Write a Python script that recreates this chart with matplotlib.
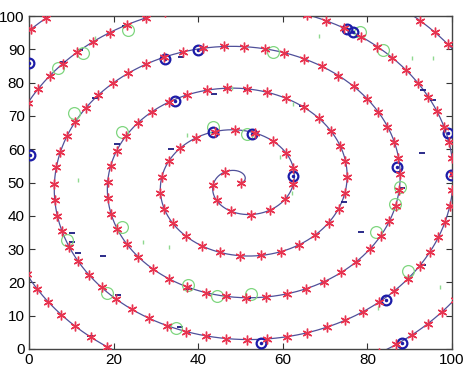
import numpy as np
import matplotlib
matplotlib.use("Agg")
import matplotlib.pyplot as plt

# ---- spiral: r = growth * theta around the centre ----
spiral_center = (50.0, 50.0)
spiral_growth = 2.0          # radius gained per radian
spiral_theta_max = 35.0      # radians covered by the curve
marker_first_arc = 3.2       # arc-length offset of marker sequence
marker_arc_step = 4.85       # arc length between successive asterisks

# ---- extra detections ----
blue_circle_x = [32.2, 40.0, 34.5, 43.4, 52.8, 76.7, 75.1, 99.1, 99.8, 86.9, 84.3, 88.1, 54.8, 62.3, 0.0, 0.2]
blue_circle_y = [87.0, 89.8, 74.6, 65.1, 64.6, 95.3, 96.0, 65.0, 52.3, 54.6, 14.7, 1.9, 1.7, 52.0, 85.8, 58.3]

green_circle_x = [23.5, 12.7, 6.9, 10.6, 78.3, 83.6, 18.4, 8.9, 89.7, 57.8, 43.6, 51.5, 82.0, 86.5, 87.7,
                  44.4, 52.6, 34.8, 37.5, 21.9, 21.9]
green_circle_y = [95.8, 89.0, 84.3, 70.8, 95.1, 89.8, 16.7, 32.7, 23.4, 89.1, 66.8, 64.5, 35.2, 43.5, 48.6,
                  16.0, 16.5, 6.2, 19.2, 65.3, 36.7]

dark_dash_x = [21.1, 17.6, 11.7, 14.4, 10.1, 10.1, 8.1, 12.1, 22.7, 15.6, 35.9, 43.8, 51.5, 64.5, 95.6,
               93.2, 88.1, 74.5, 92.8, 78.5, 93.2, 37.8, 35.7, 51.8, 20.7, 33.5]
dark_dash_y = [16.2, 27.9, 28.9, 4.0, 32.2, 34.9, 86.3, 89.8, 97.0, 75.3, 87.8, 76.5, 77.8, 73.0, 74.8,
               77.8, 48.3, 44.2, 58.8, 35.2, 25.2, 17.9, 6.5, 15.2, 61.7, 60.0]

green_dash_x = [11.7, 15.6, 47.9, 62.5, 37.3, 68.6, 90.5, 95.4, 82.6, 97.2, 59.3, 62.1, 27.0, 33.0]
green_dash_y = [50.8, 93.3, 78.3, 73.6, 64.3, 94.0, 87.4, 87.4, 12.2, 18.7, 57.7, 46.8, 32.0, 30.5]

x_ticks = [0, 20, 40, 60, 80, 100]
y_ticks = [0, 10, 20, 30, 40, 50, 60, 70, 80, 90, 100]

plt.rcParams['font.family'] = ['Liberation Sans', 'DejaVu Sans']

fig = plt.figure(figsize=(4.74, 3.76), dpi=100)
ax = fig.add_axes([29 / 474, 27 / 376, 423 / 474, 333 / 376])

# spiral curve
theta = np.linspace(0, spiral_theta_max, 6000)
r = spiral_growth * theta
cx, cy = spiral_center
xs = cx + r * np.cos(theta)
ys = cy + r * np.sin(theta)

# arc length along the curve, to place the asterisks
seg = np.hypot(np.diff(xs), np.diff(ys))
arc = np.concatenate([[0], np.cumsum(seg)])
s_marks = [0.0]
k = 1
while marker_first_arc + marker_arc_step * k <= arc[-1]:
    s_marks.append(marker_first_arc + marker_arc_step * k)
    k += 1
s_marks = np.array(s_marks)
mx = np.interp(s_marks, arc, xs)
my = np.interp(s_marks, arc, ys)

ax.plot(xs, ys, color='#50509a', lw=0.9, zorder=2)

ax.plot(green_dash_x, green_dash_y, ls='none', marker='|', ms=3.5, mew=1.0,
        color='#8fd98f', zorder=2)
ax.plot(dark_dash_x, dark_dash_y, ls='none', marker='_', ms=4, mew=1.3,
        color='#1a1a80', zorder=3)

ax.plot(green_circle_x, green_circle_y, ls='none', marker='o', ms=8.5, mfc='none',
        mec='#7fd67f', mew=0.9, zorder=3)
ax.plot(blue_circle_x, blue_circle_y, ls='none', marker='o', ms=7, mfc='none',
        mec='#1c1ca8', mew=1.6, zorder=4)
ax.plot(blue_circle_x, blue_circle_y, ls='none', marker='.', ms=3,
        color='#1c1ca8', zorder=4)

ax.plot(mx, my, ls='none', marker=(6, 2, 0), ms=7, mew=1.0, color='#e8334f', zorder=5)

ax.set_xlim(0, 100)
ax.set_ylim(0, 100)
ax.set_xticks(x_ticks)
ax.set_yticks(y_ticks)
ax.tick_params(direction='in', length=4, width=0.8, top=True, right=True,
               labeltop=False, labelright=False, labelsize=11, colors='#333333',
               labelcolor='black', pad=3)
for sp in ax.spines.values():
    sp.set_color('#444444')
    sp.set_linewidth(1.0)

fig.savefig('out.png', dpi=100)
